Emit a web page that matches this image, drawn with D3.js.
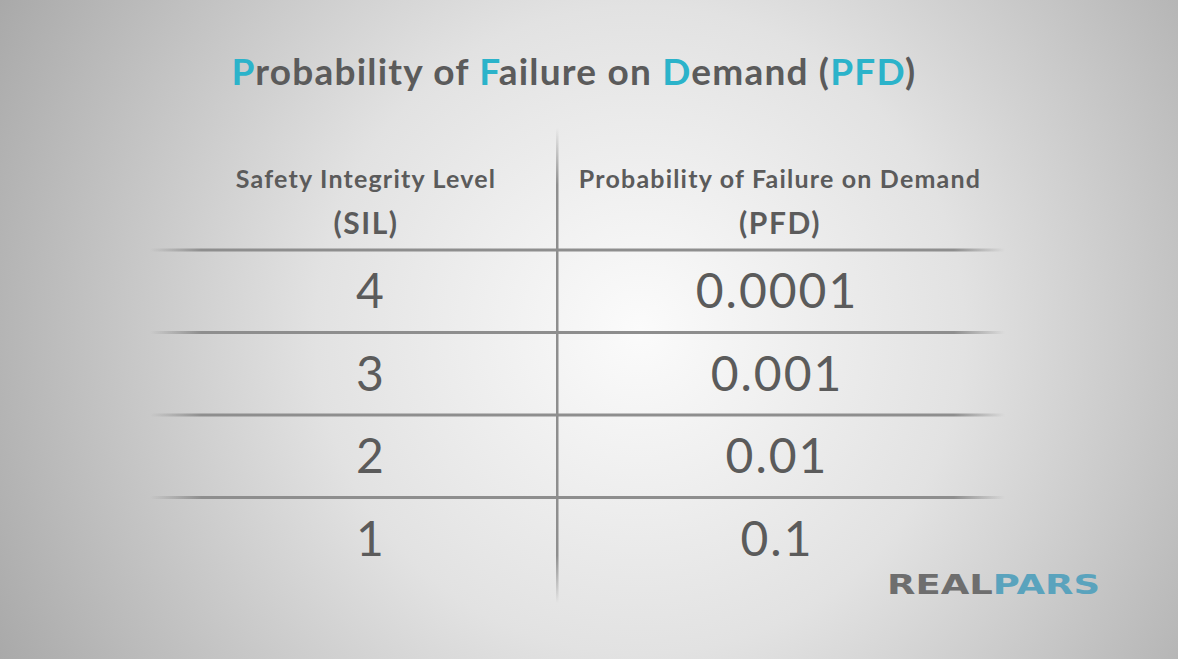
<!DOCTYPE html><html><head><meta charset="utf-8">
<script src="https://cdn.jsdelivr.net/npm/d3@7"></script>
<style>body{margin:0;overflow:hidden}</style></head><body>
<script>
const silLevels = ["4","3","2","1"];
const pfdValues = ["0.0001","0.001","0.01","0.1"];
const headers = [["Safety Integrity Level","(SIL)"],["Probability of Failure on Demand","(PFD)"]];
const titleParts = [["P",1],["robability of ",0],["F",1],["ailure on ",0],["D",1],["emand (",0],["PFD",1],[")",0]];

const W=1178,H=659;
const svg=d3.select("body").append("svg").attr("width",W).attr("height",H);
const defs=svg.append("defs");
const rg=defs.append("radialGradient").attr("id","bg").attr("gradientUnits","userSpaceOnUse")
 .attr("cx",640).attr("cy",330).attr("r",720);
rg.append("stop").attr("offset",0).attr("stop-color","#fbfbfb");
rg.append("stop").attr("offset",0.45).attr("stop-color","#e2e2e2");
rg.append("stop").attr("offset",1).attr("stop-color","#a9a9a9");
svg.append("rect").attr("width",W).attr("height",H).attr("fill","url(#bg)");
const lg=defs.append("linearGradient").attr("id","hl");
[[0,0],[0.06,1],[0.94,1],[1,0]].forEach(([o,a])=>lg.append("stop").attr("offset",o).attr("stop-color","#8e8e8e").attr("stop-opacity",a));
const vg=defs.append("linearGradient").attr("id","vl").attr("x1",0).attr("x2",0).attr("y1",0).attr("y2",1);
[[0,0],[0.12,1],[0.9,1],[1,0]].forEach(([o,a])=>vg.append("stop").attr("offset",o).attr("stop-color","#8e8e8e").attr("stop-opacity",a));

const font="Lato, 'Open Sans', sans-serif";
const t=svg.append("text").attr("x",574).attr("y",85).attr("text-anchor","middle")
 .attr("font-family",font).attr("font-weight",700).attr("font-size",37).attr("letter-spacing",1.2).attr("fill","#5b5b5b");
titleParts.forEach(([s,c])=>t.append("tspan").text(s).attr("fill",c?"#2bb3ca":"#5b5b5b"));

const colX=[366,780];
const y=d3.scaleBand().domain(silLevels).range([250,580]);

headers.forEach((h,i)=>{
 svg.append("text").attr("x",colX[i]).attr("y",188).attr("text-anchor","middle").attr("font-family",font)
  .attr("font-weight",700).attr("font-size",25).attr("letter-spacing",1.2).attr("fill","#5b5b5b").text(h[0]);
 svg.append("text").attr("x",colX[i]).attr("y",234).attr("text-anchor","middle").attr("font-family",font)
  .attr("font-weight",700).attr("font-size",30).attr("letter-spacing",1.5).attr("fill","#5b5b5b").text(h[1]);
});
silLevels.forEach(d=>{
 svg.append("rect").attr("x",150).attr("width",855).attr("y",y(d)-1.5).attr("height",3).attr("fill","url(#hl)");
});
svg.append("rect").attr("x",556).attr("width",2.5).attr("y",128).attr("height",475).attr("fill","url(#vl)");
silLevels.forEach((d,i)=>{
 const cy=y(d)+y.bandwidth()/2+17;
 svg.append("text").attr("x",colX[0]+4).attr("y",cy).attr("text-anchor","middle").attr("font-family",font)
  .attr("font-size",48).attr("fill","#5b5b5b").text(d);
 svg.append("text").attr("x",colX[1]-3).attr("y",cy).attr("text-anchor","middle").attr("font-family",font)
  .attr("font-size",48).attr("letter-spacing",2).attr("fill","#5b5b5b").text(pfdValues[i]);
});
const lt=svg.append("text").attr("x",887).attr("y",594).attr("font-family","'DejaVu Sans', sans-serif")
 .attr("font-weight",700).attr("font-size",26).attr("textLength",213).attr("lengthAdjust","spacingAndGlyphs");
lt.append("tspan").text("REAL").attr("fill","#6e6e6e");
lt.append("tspan").text("PARS").attr("fill","#5aa3bd");
</script></body></html>
